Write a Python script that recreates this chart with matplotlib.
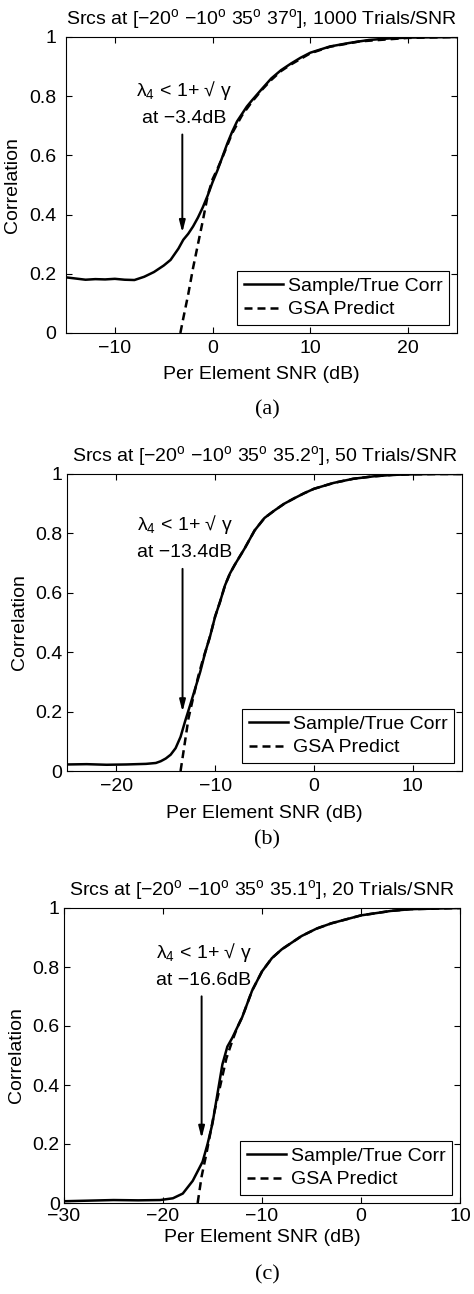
import matplotlib
matplotlib.use("Agg")
import matplotlib.pyplot as plt

plt.rcParams['font.family'] = ['Liberation Sans', 'DejaVu Sans']
plt.rcParams['mathtext.fontset'] = 'custom'
plt.rcParams['mathtext.rm'] = 'Liberation Sans'
plt.rcParams['mathtext.it'] = 'Liberation Sans'

# Panel (a)
snr_a = [-15, -14, -13, -12, -11, -10, -9, -8, -7, -6, -5, -4.3, -3.5, -3, -2.5, -2, -1.5, -1, -0.5,
         0, 0.5, 1, 1.5, 2, 2.5, 3, 3.5, 4, 5, 6, 7, 8, 9, 10, 12, 14, 16, 18, 20, 22.5, 25]
corr_a = [0.188, 0.184, 0.18, 0.182, 0.181, 0.183, 0.18, 0.179, 0.19, 0.206, 0.228, 0.247, 0.285,
          0.315, 0.335, 0.36, 0.39, 0.425, 0.465, 0.51, 0.55, 0.595, 0.64, 0.68, 0.715, 0.74, 0.765,
          0.785, 0.823, 0.86, 0.888, 0.91, 0.93, 0.947, 0.968, 0.98, 0.99, 0.995, 0.998, 0.999, 1.0]
gsa_snr_a = [-3.3, -3.0, -2.5, -2.0, -1.5, -1.0, -0.5, 0, 0.5, 1, 2, 3, 4, 5, 6, 7, 8, 10, 12, 15, 20, 25]
gsa_a = [0.0, 0.05, 0.13, 0.22, 0.30, 0.38, 0.465, 0.52, 0.555, 0.593, 0.675, 0.735, 0.78, 0.82,
         0.855, 0.885, 0.907, 0.945, 0.967, 0.985, 0.997, 1.0]

# Panel (b)
snr_b = [-25, -23, -21, -19, -17, -16, -15.5, -15, -14.5, -14, -13.5, -13, -12.5, -12, -11.5, -11,
         -10.5, -10, -9.5, -9, -8.5, -8, -7, -6, -5, -4, -3, -2, -1, 0, 2, 4, 6, 8, 10, 12.5, 15]
corr_b = [0.022, 0.023, 0.021, 0.022, 0.024, 0.027, 0.033, 0.042, 0.055, 0.077, 0.115, 0.172, 0.225,
          0.28, 0.335, 0.40, 0.455, 0.52, 0.57, 0.625, 0.665, 0.695, 0.75, 0.81, 0.852, 0.877, 0.9,
          0.918, 0.935, 0.95, 0.97, 0.984, 0.992, 0.997, 0.999, 1.0, 1.0]
gsa_snr_b = [-13.5, -13.0, -12.7, -12.2, -11.7, -11.2, -11, -10.5, -10, -9.5, -9, -8.5, -8, -7, -6,
             -5, -4, -3, -2, -1, 0, 2, 4, 6, 8, 10, 12.5, 15]
gsa_b = [0.0, 0.11, 0.177, 0.25, 0.32, 0.38, 0.40, 0.455, 0.52, 0.57, 0.625, 0.665, 0.695, 0.75,
         0.81, 0.852, 0.877, 0.9, 0.918, 0.935, 0.95, 0.97, 0.984, 0.992, 0.997, 0.999, 1.0, 1.0]

# Panel (c)
snr_c = [-30, -27.5, -25, -22.5, -20.3, -19, -18, -17, -16, -15.5, -15, -14.5, -14, -13.5, -13,
         -12, -11, -10, -9, -8, -6, -4.5, -3, 0, 3, 5, 10]
corr_c = [0.006, 0.008, 0.01, 0.009, 0.01, 0.016, 0.032, 0.075, 0.14, 0.2, 0.27, 0.37, 0.47, 0.53,
          0.56, 0.63, 0.72, 0.785, 0.83, 0.86, 0.905, 0.93, 0.948, 0.975, 0.99, 0.996, 1.0]
gsa_snr_c = [-16.5, -16.1, -15.6, -15.2, -14.8, -14.4, -14.0, -13.6, -13.0, -12.5, -12, -11, -10,
             -9, -8, -6, -4.5, -3, 0, 3, 5, 10]
gsa_c = [0.0, 0.09, 0.17, 0.24, 0.31, 0.37, 0.43, 0.49, 0.55, 0.595, 0.63, 0.72, 0.785, 0.83,
         0.86, 0.905, 0.93, 0.948, 0.975, 0.99, 0.996, 1.0]

deg = "$^{\\mathrm{o}}$"
titles = ["Srcs at [\u221220" + deg + " \u221210" + deg + " 35" + deg + " 37" + deg + "], 1000 Trials/SNR",
          "Srcs at [\u221220" + deg + " \u221210" + deg + " 35" + deg + " 35.2" + deg + "], 50 Trials/SNR",
          "Srcs at [\u221220" + deg + " \u221210" + deg + " 35" + deg + " 35.1" + deg + "], 20 Trials/SNR"]
thresh_text = ["at \u22123.4dB", "at \u221213.4dB", "at \u221216.6dB"]
arrow_x = [-3.1, -13.3, -16.1]
arrow_tail = [0.68, 0.69, 0.71]
arrow_tip = [0.33, 0.19, 0.21]
xlims = [(-15, 25), (-25, 15), (-30, 10)]
xticks = [[-10, 0, 10, 20], [-20, -10, 0, 10], [-30, -20, -10, 0, 10]]
captions = ["(a)", "(b)", "(c)"]

W, H = 474, 1294
# axes boxes in pixels: left, top, right, bottom
boxes = [(66, 37, 457, 333), (67, 474, 462, 771), (64, 908, 460, 1203)]
cap_y = [410, 840, 1275]
ylab_x = [13, 20, 17]
ytick_pad = [7, 3.5, 3]
xtick_pad = [5, 5, 3.5]
xlab_y = [375, 813, 1238]
fs = 14

fig = plt.figure(figsize=(W / 100, H / 100), dpi=100)

data = [(snr_a, corr_a, gsa_snr_a, gsa_a), (snr_b, corr_b, gsa_snr_b, gsa_b),
        (snr_c, corr_c, gsa_snr_c, gsa_c)]

for i in range(3):
    l, t, r, b = boxes[i]
    ax = fig.add_axes([l / W, 1 - b / H, (r - l) / W, (b - t) / H])
    s, c, gs, g = data[i]
    ax.plot(s, c, color='black', lw=1.8, label='Sample/True Corr')
    ax.plot(gs, g, color='black', lw=1.8, dashes=(3.2, 2.0), label='GSA Predict')
    ax.set_xlim(*xlims[i])
    ax.set_ylim(0, 1)
    ax.set_xticks(xticks[i])
    ax.set_yticks([0, 0.2, 0.4, 0.6, 0.8, 1])
    ax.set_yticklabels(['0', '0.2', '0.4', '0.6', '0.8', '1'])
    ax.tick_params(direction='in', top=True, right=True, labelsize=fs, length=4, width=0.8)
    ax.tick_params(axis='y', pad=ytick_pad[i])
    ax.tick_params(axis='x', pad=xtick_pad[i])
    for sp in ax.spines.values():
        sp.set_linewidth(0.8)
    ax.set_title(titles[i], fontsize=fs, pad=9)
    ax.set_xlabel("Per Element SNR (dB)", fontsize=fs)
    ax.xaxis.label.set_va('center')
    ax.xaxis.set_label_coords(0.5, -(xlab_y[i] - b) / (b - t))
    ax.set_ylabel("Correlation", fontsize=fs)
    ax.yaxis.label.set_va('center')
    ax.yaxis.set_label_coords(-(l - ylab_x[i]) / (r - l), 0.5)

    ax.annotate("", xy=(arrow_x[i], arrow_tip[i]), xytext=(arrow_x[i], arrow_tail[i]),
                arrowprops=dict(arrowstyle='-|>,head_width=0.18,head_length=0.7',
                                color='black', lw=1.4))
    ax.text(arrow_x[i] + 0.2, arrow_tail[i] + 0.14, "\u03bb$_4$ < 1+ \u221a \u03b3",
            ha='center', va='center', fontsize=fs)
    ax.text(arrow_x[i] + 0.2, arrow_tail[i] + 0.045, thresh_text[i],
            ha='center', va='center', fontsize=fs)

    leg = ax.legend(loc='lower right', fontsize=fs, frameon=True, fancybox=False,
                    edgecolor='black', framealpha=1, handlelength=2.0, handletextpad=0.25,
                    labelspacing=0.3, borderpad=0.35, borderaxespad=0.4)
    leg.get_frame().set_linewidth(0.8)

    fig.text(267 / W, 1 - cap_y[i] / H, captions[i], ha='center', va='center',
             fontsize=16, family='Liberation Serif')

fig.savefig("out.png", dpi=100)
